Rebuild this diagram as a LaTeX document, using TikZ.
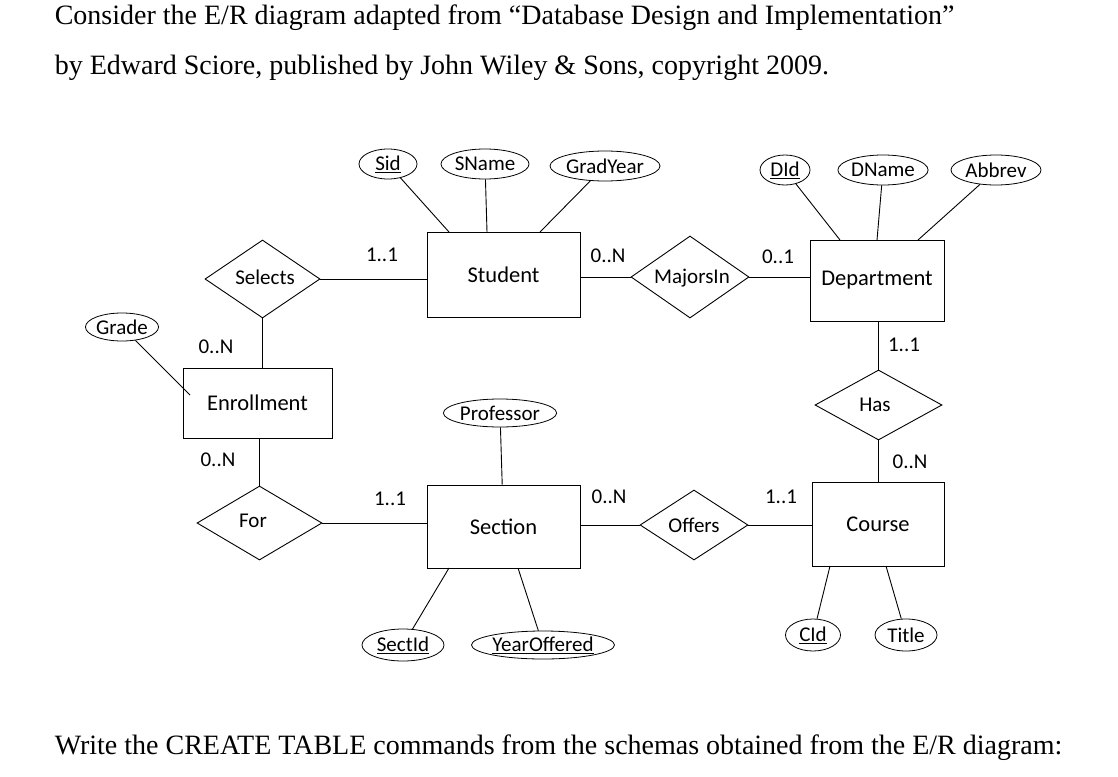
\documentclass[tikz,border=0pt]{standalone}
\usepackage{fontspec}
\setmainfont{Liberation Serif}
\newfontfamily\calfnt{Carlito}
\usetikzlibrary{shapes.geometric}
\begin{document}
\begin{tikzpicture}[x=1pt,y=-1pt,line width=0.9pt,
  ent/.style={draw,rectangle,inner sep=0pt,font=\calfnt\fontsize{22.5}{24}\selectfont},
  rel/.style={draw,diamond,inner sep=0pt},
  att/.style={draw,ellipse,inner sep=0pt,line width=0.8pt,font=\calfnt\fontsize{21}{23}\selectfont},
  card/.style={font=\calfnt\fontsize{21}{23}\selectfont},
  ttl/.style={anchor=west,font=\fontsize{28}{31}\selectfont}]
\useasboundingbox (0,0) rectangle (1118,776);
\node[ttl] (t1) at (51,18) {Consider the E/R diagram adapted from “Database Design and Implementation”};
\node[ttl] (t2) at (51,68) {by Edward Sciore, published by John Wiley \& Sons, copyright 2009.};
\node[ttl] (t3) at (51,748) {Write the CREATE TABLE commands from the schemas obtained from the E/R diagram:};
% entities
\node[ent,minimum width=153,minimum height=85] (stu) at (503.5,274.5) {Student};
\node[ent,minimum width=134,minimum height=81] (dep) at (877,280.5) {Department};
\node[ent,minimum width=149,minimum height=70] (enr) at (257.5,403) {Enrollment};
\node[ent,minimum width=153,minimum height=83] (sec) at (503.5,526.5) {Section};
\node[ent,minimum width=132,minimum height=84] (crs) at (878,524) {Course};
% relationships
\node[rel,minimum width=115,minimum height=78] (sel) at (262.5,279) {};
\node[card] (selt) at (265,277) {Selects};
\node[rel,minimum width=118,minimum height=82] (maj) at (690,277) {};
\node[card] (majt) at (692,278) {MajorsIn};
\node[rel,minimum width=127,minimum height=70] (has) at (878.5,405) {};
\node[card] (hast) at (875,405) {Has};
\node[rel,minimum width=125,minimum height=74] (for) at (259.5,523) {};
\node[card] (fort) at (253,521) {For};
\node[rel,minimum width=108,minimum height=70] (off) at (694,525) {};
\node[card] (offt) at (694,525) {Offers};
% attributes
\node[att,minimum width=58,minimum height=30] (sid) at (388,164) {\underline{Sid}};
\node[att,minimum width=88,minimum height=30] (sname) at (485,164) {SName};
\node[att,minimum width=100,minimum height=30] (grad) at (605,166) {GradYear};
\node[att,minimum width=50,minimum height=30] (did) at (785,170) {\underline{DId}};
\node[att,minimum width=88,minimum height=30] (dname) at (883,170) {DName};
\node[att,minimum width=90,minimum height=30] (abb) at (996,170) {Abbrev};
\node[att,minimum width=65,minimum height=28] (grade) at (122,327) {Grade};
\node[att,minimum width=110,minimum height=28] (prof) at (500,413) {Professor};
\node[att,minimum width=82,minimum height=32] (sectid) at (403,645) {\underline{SectId}};
\node[att,minimum width=130,minimum height=28] (yo) at (543,645) {\underline{YearOffered}};
\node[att,minimum width=55,minimum height=32] (cid) at (813,635) {\underline{CId}};
\node[att,minimum width=62,minimum height=32] (title) at (906,635) {Title};
% attachment points
\coordinate (s1) at (449,232); \coordinate (s2) at (487,232); \coordinate (s3) at (540,232);
\coordinate (d1) at (840,240); \coordinate (d2) at (877,240); \coordinate (d3) at (918,240);
\coordinate (e1) at (190,395);
\coordinate (c1) at (449,568); \coordinate (c2) at (518,568);
\coordinate (k1) at (830,566); \coordinate (k2) at (886,566);
\draw (sid) -- (s1); \draw (sname) -- (s2); \draw (grad) -- (s3);
\draw (did) -- (d1); \draw (dname) -- (d2); \draw (abb) -- (d3);
\draw (grade) -- (e1);
\draw (prof) -- (sec);
\draw (sectid) -- (c1); \draw (yo) -- (c2);
\draw (cid) -- (k1); \draw (title) -- (k2);
\draw (sel.east) -- (sel.east -| stu.west);
\draw (sel.south) -- (sel.south |- enr.north);
\draw (enr.south -| for.north) -- (for.north);
\draw (for.east) -- (for.east -| sec.west);
\draw (stu.east |- maj.west) -- (maj.west);
\draw (maj.east) -- (maj.east -| dep.west);
\draw (dep.south -| has.north) -- (has.north);
\draw (has.south) -- (has.south |- crs.north);
\draw (sec.east |- off.west) -- (off.west);
\draw (off.east) -- (off.east -| crs.west);
% cardinalities
\node[card] (n1) at (382,255) {1..1};
\node[card] (n2) at (608,256) {0..N};
\node[card] (n3) at (778,257) {0..1};
\node[card] (n4) at (904,345) {1..1};
\node[card] (n5) at (216,347) {0..N};
\node[card] (n6) at (218,460) {0..N};
\node[card] (n7) at (390,499) {1..1};
\node[card] (n8) at (609,497) {0..N};
\node[card] (n9) at (781,497) {1..1};
\node[card] (n10) at (910,462) {0..N};
\end{tikzpicture}
\end{document}
